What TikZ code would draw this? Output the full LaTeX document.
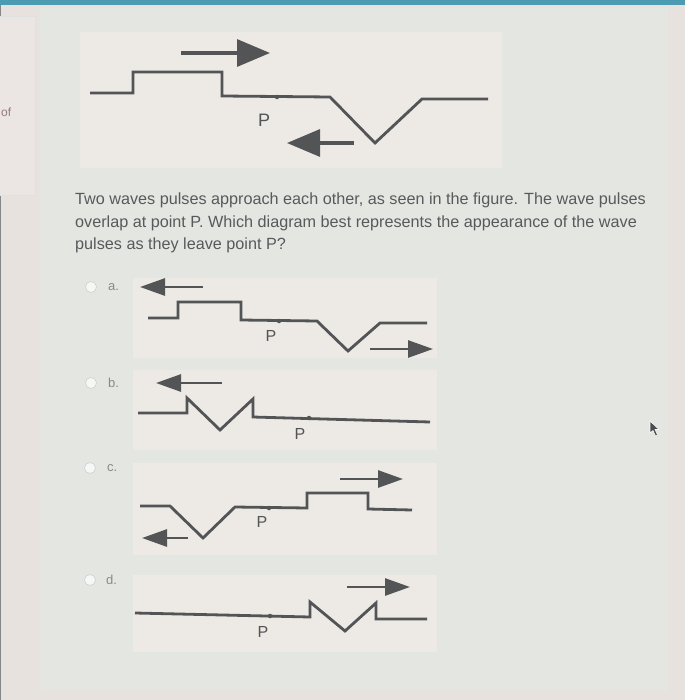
\documentclass[tikz,border=0pt]{standalone}
\usepackage{fontspec}
\setmainfont{Liberation Sans}
\usetikzlibrary{arrows.meta}
\definecolor{outerbg}{HTML}{E8E2DE}
\definecolor{mainbg}{HTML}{E4E6E2}
\definecolor{panelbg}{HTML}{EDE9E5}
\definecolor{cardbg}{HTML}{EBE6E3}
\definecolor{wave}{HTML}{525456}
\definecolor{txt}{HTML}{58595B}
\definecolor{lbl}{HTML}{8A8A8A}
\definecolor{topbar}{HTML}{4B9BB2}
\tikzset{
  wavepath/.style={draw=wave, line width=2.8pt, line join=miter},
  bigarrow/.style={draw=wave, line width=3.2pt, -{Triangle[length=33pt,width=27pt]}},
  smallarrow/.style={draw=wave, line width=2.8pt, -{Triangle[length=25pt,width=17pt]}},
  pdot/.style={fill=wave, circle, inner sep=0pt, minimum size=4.5pt},
  plabel/.style={text=wave, font=\fontsize{18}{18}\selectfont, inner sep=0pt},
  smallplabel/.style={text=wave, font=\fontsize{16}{16}\selectfont, inner sep=0pt},
  qtext/.style={text=txt, font=\fontsize{16.2}{18}\selectfont, anchor=base west, inner sep=0pt},
  optlabel/.style={text=lbl, font=\fontsize{13}{13}\selectfont, anchor=west, inner sep=0pt},
  radio/.style={circle, draw=lbl!40, fill=white!70!mainbg, line width=0.6pt, minimum size=11pt, inner sep=0pt},
  panel/.style={fill=panelbg, draw=none}
}
\begin{document}
\begin{tikzpicture}[x=1pt,y=-1pt]
\useasboundingbox (0,0) rectangle (685,700);
% backgrounds
\fill[outerbg] (0,0) rectangle (685,700);
\fill[mainbg] (40,8) rectangle (668,690);
\fill[topbar] (0,0) rectangle (685,5);
\fill[wave!70] (0,5) rectangle (1.2,700);
\fill[cardbg, draw=black!12, line width=0.5pt] (-1,16) rectangle (35,195);
\node[text=lbl!90!red, font=\fontsize{12}{12}\selectfont, anchor=west, inner sep=0pt] (of) at (1,112) {of};

% main figure
\fill[panel] (80,32) rectangle (502,168);
\draw[wavepath] (90,93) -- (133,93) -- (133,72) -- (222,72) -- (222,96) -- (330,97) -- (375,143) -- (422,99) -- (488,99);
\coordinate (mP) at (277,97);
\node[pdot] (mPd) at (mP) {};
\node[plabel] (mPl) at (264,120) {P};
\coordinate (mA1s) at (181,53); \coordinate (mA1e) at (270,53);
\draw[bigarrow] (mA1s) -- (mA1e);
\coordinate (mA2s) at (354,143); \coordinate (mA2e) at (287,143);
\draw[bigarrow] (mA2s) -- (mA2e);

% question text
\node[qtext] (q1) at (75,205) {Two waves pulses approach each other, as seen in the figure. The wave pulses};
\node[qtext] (q2) at (75,228) {overlap at point P. Which diagram best represents the appearance of the wave};
\node[qtext] (q3) at (75,250) {pulses as they leave point P?};

% option a
\node[radio] (ra) at (91,287) {};
\node[optlabel] (la) at (108,287) {a.};
\fill[panel] (133,278) rectangle (437,358);
\draw[wavepath] (148,318) -- (178,318) -- (178,302) -- (241,302) -- (241,320) -- (317,321) -- (348,351) -- (380,323) -- (427,323);
\node[pdot] (aPd) at (279,321) {};
\node[smallplabel] (aPl) at (271,336) {P};
\coordinate (aA1s) at (203,287); \coordinate (aA1e) at (140,287);
\draw[smallarrow] (aA1s) -- (aA1e);
\coordinate (aA2s) at (370,349); \coordinate (aA2e) at (433,349);
\draw[smallarrow] (aA2s) -- (aA2e);

% option b
\node[radio] (rb) at (91,383) {};
\node[optlabel] (lb) at (108,383) {b.};
\fill[panel] (133,370) rectangle (437,450);
\draw[wavepath] (138,413) -- (187,413) -- (187,398) -- (220,430) -- (253,399) -- (253,417) -- (430,422);
\node[pdot] (bPd) at (309,418) {};
\node[smallplabel] (bPl) at (300,434) {P};
\coordinate (bA1s) at (222,383); \coordinate (bA1e) at (156,383);
\draw[smallarrow] (bA1s) -- (bA1e);

% option c
\node[radio] (rc) at (90,468) {};
\node[optlabel] (lc) at (107,468) {c.};
\fill[panel] (133,463) rectangle (437,555);
\draw[wavepath] (140,506) -- (170,506) -- (203,538) -- (235,507) -- (307,508) -- (307,493) -- (368,493) -- (368,509) -- (412,510);
\node[pdot] (cPd) at (269,508) {};
\node[smallplabel] (cPl) at (262,522) {P};
\coordinate (cA1s) at (340,479); \coordinate (cA1e) at (403,479);
\draw[smallarrow] (cA1s) -- (cA1e);
\coordinate (cA2s) at (188,538); \coordinate (cA2e) at (142,538);
\draw[smallarrow] (cA2s) -- (cA2e);

% option d
\node[radio] (rd) at (90,580) {};
\node[optlabel] (ld) at (106,580) {d.};
\fill[panel] (133,575) rectangle (437,652);
\draw[wavepath] (135,613) -- (310,617) -- (310,602) -- (345,631) -- (376,603) -- (376,619) -- (427,619);
\node[pdot] (dPd) at (270,616) {};
\node[smallplabel] (dPl) at (263,632) {P};
\coordinate (dA1s) at (347,587); \coordinate (dA1e) at (410,587);
\draw[smallarrow] (dA1s) -- (dA1e);

% mouse cursor
\filldraw[fill=wave!90!black, draw=white!80!mainbg, line width=0.6pt] (650,421) -- (650,433) -- (653,430.5) -- (655.5,436) -- (657.5,435) -- (655,429.5) -- (659,429.5) -- cycle;
\end{tikzpicture}
\end{document}
